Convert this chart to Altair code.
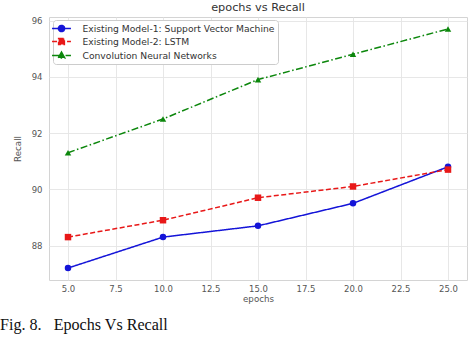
import altair as alt
import pandas as pd

epochs = [5, 10, 15, 20, 25]
series_names = [
    "Existing Model-1: Support Vector Machine",
    "Existing Model-2: LSTM",
    "Convolution Neural Networks",
]
svm = [87.2, 88.3, 88.7, 89.5, 90.8]
lstm = [88.3, 88.9, 89.7, 90.1, 90.7]
cnn = [91.3, 92.5, 93.9, 94.8, 95.7]
x_ticks = [5, 7.5, 10, 12.5, 15, 17.5, 20, 22.5, 25]
y_ticks = [88, 90, 92, 94, 96]

colors = ["#1414d8", "#e81818", "#0c870c"]
dashes = [[1, 0], [5, 2.5], [7, 2.5, 1.5, 2.5]]
shapes = ["circle", "square", "triangle-up"]
legend_shapes = [
    "M-2.1,0H2.1M0.69,0A0.69,0.69,0,1,1,-0.69,0A0.69,0.69,0,1,1,0.69,0Z",
    "M-2.1,0H2.1M-0.64,-0.64H0.64V0.64H-0.64Z",
    "M-2.1,0H2.1M0,-0.78L0.73,0.55H-0.73Z",
]

rows = []
for name, vals in zip(series_names, [svm, lstm, cnn]):
    for e, v in zip(epochs, vals):
        rows.append({"epochs": e, "Recall": v, "Model": name})
df = pd.DataFrame(rows)

leg = alt.Legend(
    title=None,
    orient="none",
    legendX=4,
    legendY=3,
    padding=3,
    symbolSize=81,
    symbolStrokeWidth=1.5,
    symbolOpacity=1,
    labelOffset=15.5,
    labelLimit=400,
    labelFont="DejaVu Sans",
    labelFontSize=9.2,
    labelColor="#333333",
    rowPadding=0,
    strokeColor="#cccccc",
    fillColor="white",
    cornerRadius=3,
)

x = alt.X(
    "epochs:Q",
    scale=alt.Scale(domain=[4, 26], nice=False, zero=False),
    axis=alt.Axis(values=x_ticks, format=".1f", title="epochs"),
)
y = alt.Y(
    "Recall:Q",
    scale=alt.Scale(domain=[86.775, 96.125], nice=False, zero=False),
    axis=alt.Axis(values=y_ticks, format="d", title="Recall"),
)

series_layers = []
for name, col, dsh, shp in zip(series_names, colors, dashes, shapes):
    base = alt.Chart(df).transform_filter(alt.datum.Model == name)
    series_layers.append(
        base.mark_line(strokeWidth=1.5, color=col, strokeDash=dsh).encode(x=x, y=y)
    )
    series_layers.append(
        base.mark_point(filled=True, size=42, opacity=1, shape=shp, color=col).encode(x=x, y=y)
    )

# invisible layer that only supplies the legend (line + marker symbols)
legend_layer = alt.Chart(df).mark_point(filled=True, opacity=0).encode(
    x=x,
    y=y,
    fill=alt.Fill("Model:N", scale=alt.Scale(domain=series_names, range=colors), legend=leg),
    stroke=alt.Stroke("Model:N", scale=alt.Scale(domain=series_names, range=colors), legend=leg),
    shape=alt.Shape("Model:N", scale=alt.Scale(domain=series_names, range=legend_shapes), legend=leg),
    strokeDash=alt.StrokeDash("Model:N", scale=alt.Scale(domain=series_names, range=dashes), legend=leg),
)

caption = alt.Chart(pd.DataFrame({"t": ["Fig.\u00a08.\u00a0\u00a0\u00a0Epochs Vs Recall"]})).mark_text(
    align="left", baseline="alphabetic", font="Liberation Serif", fontSize=16.1, color="#111111"
).encode(text="t:N", x=alt.value(-49), y=alt.value(313))

chart = (
    alt.layer(*series_layers, legend_layer, caption)
    .properties(
        width=418,
        height=263,
        title=alt.TitleParams("epochs vs Recall", font="DejaVu Sans", fontSize=11.3, fontWeight="normal", color="#333333", offset=3),
        autosize=alt.AutoSizeParams(type="none"),
        padding={"left": 49, "top": 17, "right": 7, "bottom": 78},
    )
    .configure_view(stroke="#d4d4d4", strokeWidth=1)
    .configure_axis(
        grid=True,
        gridColor="#e4e4e4",
        gridWidth=0.9,
        domain=False,
        ticks=False,
        labelFont="DejaVu Sans",
        labelFontSize=8.5,
        labelColor="#555555",
        titleFont="DejaVu Sans",
        titleFontSize=8.7,
        titleColor="#555555",
        titleFontWeight="normal",
    )
    .configure_axisX(labelPadding=4, titlePadding=2)
    .configure_axisY(labelPadding=7, titlePadding=9)
)

chart.save("out.html", embed_options={"renderer": "svg", "actions": False})
